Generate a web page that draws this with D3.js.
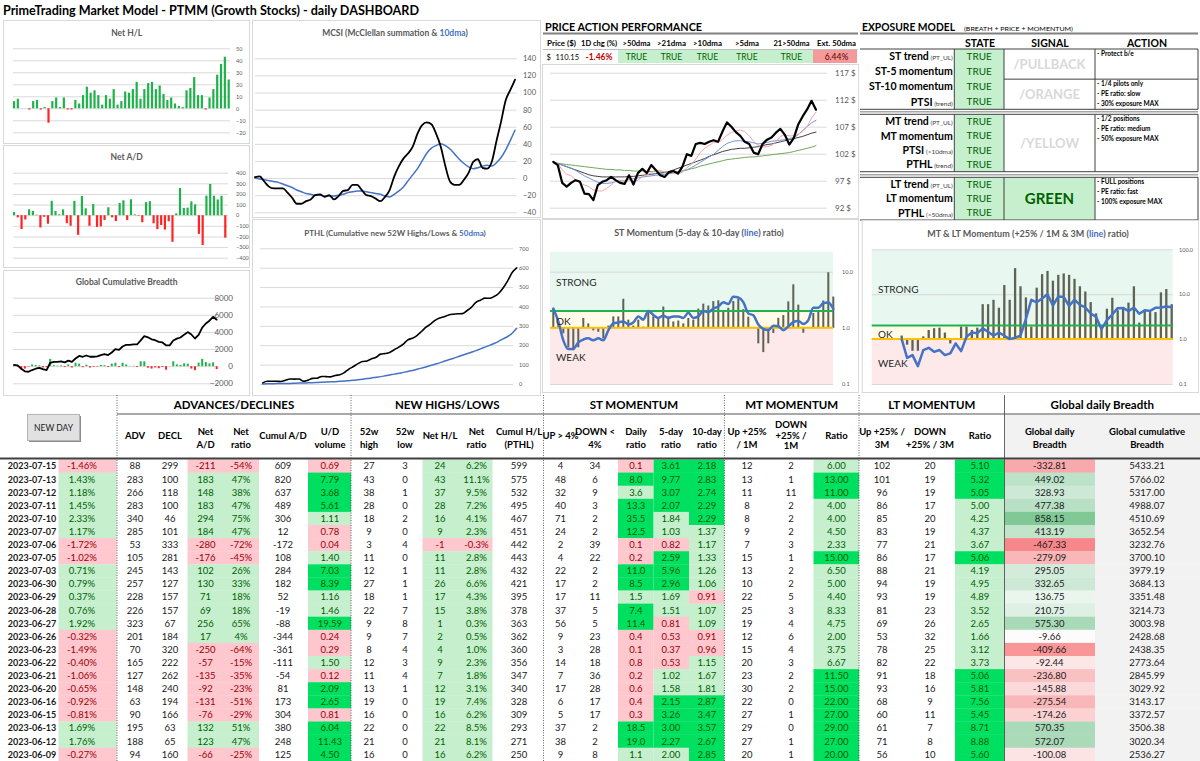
<!DOCTYPE html>
<html>
<head>
<meta charset="utf-8">
<title>PTMM daily dashboard</title>
<script src="https://cdn.jsdelivr.net/npm/d3@7/dist/d3.min.js"></script>
<style>
  body { margin: 0; background: #fff; }
  svg { display: block; font-family: Lato, "Open Sans", sans-serif; }
</style>
</head>
<body>
<svg id="dash" width="1200" height="761"></svg>
<script>
// ---- table rows, newest first (as in the sheet) ----
const dates = ["2023-07-15","2023-07-13","2023-07-12","2023-07-11","2023-07-10","2023-07-07","2023-07-06","2023-07-05","2023-07-03","2023-06-30","2023-06-29","2023-06-28","2023-06-27","2023-06-26","2023-06-23","2023-06-22","2023-06-21","2023-06-20","2023-06-16","2023-06-15","2023-06-13","2023-06-12","2023-06-09"];
const chg1d = [-1.46,1.43,1.18,1.45,2.33,1.17,-1.72,-1.02,0.71,0.79,0.37,0.76,1.92,-0.32,-1.49,-0.40,-1.06,-0.65,-0.92,-0.81,1.69,1.76,-0.27];
const adv = [88,283,266,283,340,285,53,105,245,257,228,226,323,201,70,165,127,148,63,90,195,188,94];
const decl = [299,100,118,100,46,101,333,281,143,127,157,157,67,184,320,222,262,240,194,166,63,65,160];
const netAD = [-211,183,148,183,294,184,-280,-176,102,130,71,69,256,17,-250,-57,-135,-92,-131,-76,132,123,-66];
const netADPct = [-54,47,38,47,75,47,-72,-45,26,33,18,18,65,4,-64,-15,-35,-23,-51,-29,51,47,-25];
const cumAD = [609,820,637,489,306,12,-172,108,284,182,52,-19,-88,-344,-361,-111,-54,81,173,304,380,248,125];
const udVolume = [0.69,7.79,3.68,5.61,1.11,0.78,0.04,1.40,7.03,8.39,1.16,1.46,19.59,0.24,0.29,1.50,0.12,2.09,2.65,0.81,6.04,11.43,4.50];
const high52 = [27,43,38,28,18,9,3,11,12,27,18,22,9,9,8,12,11,13,19,16,22,21,16];
const low52 = [3,0,1,0,2,0,4,0,1,1,1,7,8,7,4,3,4,1,0,0,0,0,0];
const netHL = [24,43,37,28,16,9,-1,11,11,26,17,15,1,2,4,9,7,12,19,16,22,21,16];
const netHLPct = [6.2,11.1,9.5,7.2,4.1,2.3,-0.3,2.8,2.8,6.6,4.3,3.8,0.3,0.5,1.0,2.3,1.8,3.1,7.4,6.2,8.5,8.1,6.2];
const cumHL = [599,575,532,495,467,451,442,443,432,421,395,378,363,362,360,356,347,340,328,309,293,271,250];
const up4 = [4,48,32,40,71,24,2,4,22,17,17,37,56,9,3,14,7,17,6,5,37,38,9];
const down4 = [34,6,9,3,2,2,39,22,2,2,11,5,5,23,28,18,36,28,17,17,2,2,8];
const dailyRatio = [0.1,8.0,3.6,13.3,35.5,12.5,0.1,0.2,11.0,8.5,1.5,7.4,11.4,0.4,0.1,0.8,0.2,0.6,0.4,0.3,18.5,19.0,1.1];
const ratio5d = [3.61,9.77,3.07,2.07,1.84,1.03,0.82,2.59,5.96,2.96,1.69,1.51,0.81,0.53,0.37,0.53,1.02,1.58,2.15,3.26,3.00,2.27,2.00];
const ratio10d = [2.18,2.83,2.74,2.29,2.29,1.37,1.17,1.33,1.26,1.06,0.91,1.07,1.09,0.91,0.96,1.15,1.67,1.81,2.87,3.47,3.57,2.67,2.85];
const mtUp = [12,13,11,8,8,9,7,15,13,10,22,25,19,12,15,20,23,30,22,27,29,27,20];
const mtDown = [2,1,11,2,2,2,3,1,2,2,5,3,4,6,4,3,2,2,0,1,0,1,1];
const mtRatio = [6.00,13.00,11.00,4.00,4.00,4.50,2.33,15.00,6.50,5.00,4.40,8.33,4.75,2.00,3.75,6.67,11.50,15.00,22.00,27.00,29.00,27.00,20.00];
const ltUp = [102,101,96,86,85,83,77,86,88,94,93,81,69,53,78,82,91,93,68,60,61,71,56];
const ltDown = [20,19,19,17,20,19,21,17,21,19,19,23,26,32,25,22,18,16,9,11,7,8,10];
const ltRatio = [5.10,5.32,5.05,5.00,4.25,4.37,3.67,5.06,4.19,4.95,4.89,3.52,2.65,1.66,3.12,3.73,5.06,5.81,7.56,5.45,8.71,8.88,5.60];
const gDaily = [-332.81,449.02,328.93,477.38,858.15,413.19,-467.33,-279.09,295.05,332.65,136.75,210.75,575.30,-9.66,-409.66,-92.44,-236.80,-145.88,-275.54,-174.26,570.35,572.07,-100.08];
const gCum = [5433.21,5766.02,5317.00,4988.07,4510.69,3652.54,3232.76,3700.10,3979.19,3684.13,3351.48,3214.73,3003.98,2428.68,2438.35,2773.64,2845.99,3029.92,3143.17,3372.57,3506.38,3020.34,2536.27];

// ---- chart history before 2023-06-09, oldest first ----
const netHLEarly = [6,8,0,0,-1,6,7,-1,1,-12,6,9,1,9,-1,-1,7,4,11,18,13,15,11,3,11,8,16,3,6,14,13,16,22,8];
const netADEarly = [30,-20,-130,-40,55,40,5,-115,-15,-80,135,40,8,55,-75,-100,135,-185,180,65,-100,105,-110,-105,-45,75,-20,-55,115,140,-45,150,8,-5];
const gDailyEarly = [120,-60,-350,-280,-60,200,150,100,-150,-120,850,120,60,90,-100,200,-150,400,300,-120,180,-150,-80,-50,150,120,-100,300,400,-100,400,200,30,50];
const gCumEarly = [150,100,-300,-600,-650,-450,-300,-200,-350,-450,400,500,500,550,450,650,500,900,1200,1100,1250,1100,1100,1150,1300,1400,1300,1600,2000,1900,2300,2500,2500,2550];
const cumHLEarly = [6,14,14,14,13,19,26,25,26,14,20,29,30,39,38,37,44,48,59,77,90,105,116,119,130,138,154,157,163,177,190,206,228,236];
const st5Early = [2.2,1.2,0.8,0.45,0.4,0.45,1.5,1.2,0.9,0.85,0.65,1.1,1.6,1.6,3.3,1.4,1.1,1.4,1.05,1.9,1.6,1.5,2.4,1.6,1.3,1.35,1.2,1.5,1.4,2.2,2.7,2.5,3.0,3.1];
const st10Early = [2.2,1.3,0.6,0.42,0.42,0.55,0.62,0.65,0.6,0.65,0.6,0.9,1.2,1.25,1.3,1.15,1.25,1.6,1.4,2.0,1.7,1.5,1.65,1.5,1.6,1.6,1.5,1.85,1.5,1.6,2.0,1.9,2.2,2.4];
const mtEarly = [null,null,null,null,null,null,1.2,0.75,0.55,0.55,1.15,1.6,1.75,1.8,1.4,0.8,1.0,1.9,1.9,1.6,1.8,6.0,6.0,7.5,5.0,16,7.5,38,15,8.5,1.9,14,28,33];
const ltEarly = [null,null,null,null,null,null,1.0,0.38,0.44,0.25,0.57,0.64,0.52,0.57,0.44,0.48,0.8,0.54,1.13,1.4,1.35,1.73,1.45,1.19,1.4,1.19,1.0,1.07,1.2,2.8,7.5,6.6,8.0,10.0];

// full-length series, oldest first
const mcsi = [1,2,-4,-10,-12,-12,-12,-17,-23,-30,-30,-27,-25,-20,-19,-22,-20,-25,-21,-15,-14,-8,-8,-14,-20,-21,-24,-27,-22,-14,2,14,23,29,37,52,62,65,63,52,37,14,-4,-8,-8,-2,6,19,22,12,11,19,43,66,91,103,115];
const mcsi10 = [0,-1,-2,-3,-4,-5,-7,-9,-11,-14,-16,-18,-19,-20,-20,-21,-21,-21,-20,-19,-17,-16,-15,-15,-16,-17,-18,-19,-21,-22,-19,-15,-10,-3,4,11,20,29,35,38,40,38,34,28,22,17,13,11,12,14,15,14,18,24,33,44,56];
const pthl50 = [0,1,1,2,2,3,3,4,5,5,6,7,8,9,10,11,12,14,15,17,19,22,25,28,31,35,38,42,46,51,55,60,65,70,76,82,88,95,102,109,117,125,132,140,148,156,164,172,181,190,199,209,220,233,245,262,287];
const price = [100.5,99.9,96.6,95.9,96.6,97.1,96.8,94.6,94.5,93.4,96.2,96.8,97.1,97.7,97.1,96.6,96.4,98.0,96.3,98.4,99.2,98.4,99.9,99.0,98.0,97.7,98.6,98.8,98.3,99.6,101.9,101.6,103.8,104.0,103.8,104.2,104.5,104.2,106.1,107.8,107.0,106.0,105.3,104.2,103.8,102.2,101.9,103.8,104.6,105.0,105.9,106.6,105.5,103.7,104.9,107.4,108.9,110.2,111.8,110.15];
const ma5 = [100.5,100.2,99.0,98.2,97.9,97.2,96.6,96.2,95.9,95.3,95.1,95.1,95.6,96.2,97.0,97.1,97.0,97.2,96.9,97.1,97.7,98.1,98.4,99.0,98.9,98.6,98.6,98.4,98.3,98.6,99.4,100.0,101.0,102.2,103.0,103.5,104.1,104.1,104.6,105.4,105.9,106.2,106.4,106.1,105.3,104.3,103.5,103.2,103.3,103.5,104.2,105.2,105.5,105.3,105.3,105.6,106.1,107.0,108.6,109.7];
const ma10 = [100.5,100.2,99.9,99.6,99.3,98.9,98.4,97.9,97.5,97.1,96.7,96.5,96.5,96.6,96.8,96.9,97.0,97.2,97.4,97.5,97.7,97.8,97.9,98.0,98.1,98.2,98.3,98.4,98.6,98.8,99.0,99.4,99.9,100.4,100.9,101.4,101.9,102.6,103.3,103.9,104.2,104.4,104.4,104.3,104.2,104.0,103.8,103.9,104.1,104.3,104.4,104.5,104.6,104.8,105.0,105.5,106.3,107.0,107.7,108.2];
const ma21 = [100.5,100.2,99.9,99.6,99.3,99.0,98.7,98.4,98.1,97.9,97.8,97.7,97.7,97.7,97.7,97.7,97.7,97.8,97.8,97.9,98.0,98.1,98.2,98.3,98.4,98.5,98.7,99.0,99.3,99.6,99.9,100.2,100.5,100.8,101.1,101.5,101.8,102.1,102.4,102.6,102.8,102.9,103.0,103.0,103.1,103.2,103.3,103.5,103.7,103.8,104.0,104.2,104.4,104.6,104.8,105.0,105.2,105.5,105.8,106.0];
const ma50 = [100.3,100.2,100.1,100.0,99.9,99.8,99.7,99.6,99.5,99.4,99.3,99.2,99.1,99.1,99.0,99.0,98.9,98.9,98.8,98.8,98.8,98.7,98.7,98.7,98.6,98.6,98.6,98.6,98.7,98.8,99.0,99.2,99.4,99.7,99.9,100.1,100.3,100.5,100.7,100.9,101.0,101.1,101.2,101.3,101.4,101.4,101.5,101.6,101.7,101.8,101.9,102.0,102.1,102.2,102.4,102.6,102.8,103.0,103.2,103.5];

// ---- price action / exposure model texts ----
const paHeaders = ["Price ($)","1D chg (%)",">50dma",">21dma",">10dma",">5dma","21>50dma","Ext. 50dma"];
const paFlags = ["TRUE","TRUE","TRUE","TRUE","TRUE"];
const paPrice = 110.15, paChg = -1.46, paExt = 6.44;
const expoLabels = [
  [["ST trend","(PT_UL)"],["ST-5 momentum",""],["ST-10 momentum",""],["PTSI","(trend)"]],
  [["MT trend","(PT_UL)"],["MT momentum",""],["PTSI","(>10dma)"],["PTHL","(trend)"]],
  [["LT trend","(PT_UL)"],["LT momentum",""],["PTHL","(>50dma)"]]
];
const expoSignals = [["/PULLBACK","/ORANGE"],["/YELLOW"],["GREEN"]];
const expoActions = [
  [["- Protect b/e"],["- 1/4 pilots only","- PE ratio: slow","- 30% exposure MAX"]],
  [["- 1/2 positions","- PE ratio: medium","- 50% exposure MAX"]],
  [["- FULL positions","- PE ratio: fast","- 100% exposure MAX"]]
];
const zoneStrong = 2, zoneOk = 1;

// chronological series for the charts
const chrono = a => a.slice().reverse();
const hlSeries = netHLEarly.concat(chrono(netHL));
const adSeries = netADEarly.concat(chrono(netAD));
const gDailySeries = gDailyEarly.concat(chrono(gDaily));
const gCumSeries = gCumEarly.concat(chrono(gCum));
const pthlSeries = cumHLEarly.concat(chrono(cumHL));
const st5Series = st5Early.concat(chrono(ratio5d));
const st10Series = st10Early.concat(chrono(ratio10d));
const mtSeries = mtEarly.concat(chrono(mtRatio));
const ltSeries = ltEarly.concat(chrono(ltRatio));

// ---- drawing ----
const svg = d3.select("#dash");
const FONT = "Lato, 'Open Sans', sans-serif";
const GRID = "#d9d9d9", AX = "#595959", BLUE = "#4472c4";
const UP = "#1fb24a", DN = "#ff2424", BARGRAY = "#5f6356";
const C_LG = "#c6efce", C_LR = "#ffc7ce", C_BG = "#00e060", T_G = "#006100", T_R = "#9c0006";

svg.append("rect").attr("width", 1200).attr("height", 761).attr("fill", "#fff");

function panel(x, y, w, h) {
  svg.append("rect").attr("x", x + 0.5).attr("y", y + 0.5).attr("width", w).attr("height", h)
    .attr("fill", "#fff").attr("stroke", "#d9d9d9");
}

function chartTitle(cx, y, parts, size) {
  const t = svg.append("text").attr("x", cx).attr("y", y).attr("text-anchor", "middle")
    .attr("font-size", size).attr("font-weight", "bold").attr("fill", AX);
  parts.forEach(p => t.append("tspan").attr("fill", p[1] || AX).text(p[0]));
}

function gridAxis(scale, vals, gx0, gx1, lx, fmt, size, anchor) {
  const g = svg.append("g").attr("transform", `translate(${gx1},0)`)
    .call(d3.axisRight(scale).tickValues(vals).tickFormat(fmt)
      .tickSize(-(gx1 - gx0)).tickPadding(lx - gx1));
  g.select(".domain").remove();
  g.selectAll(".tick line").attr("stroke", GRID);
  g.selectAll(".tick text").attr("font-family", FONT).attr("font-size", size)
    .attr("fill", AX).attr("text-anchor", anchor || "start");
}

function bars(vals, xr, y, base, w, color) {
  const x = d3.scalePoint().domain(d3.range(vals.length)).range(xr);
  svg.append("g").selectAll("rect")
    .data(vals.map((v, i) => ({ v, i })).filter(d => d.v != null))
    .join("rect")
    .attr("x", d => x(d.i) - w / 2).attr("width", w)
    .attr("y", d => Math.min(y(d.v), y(base)))
    .attr("height", d => Math.abs(y(d.v) - y(base)))
    .attr("fill", d => typeof color === "function" ? color(d.v) : color);
}

function line(vals, xr, y, color, width, curve) {
  const x = d3.scalePoint().domain(d3.range(vals.length)).range(xr);
  svg.append("path").datum(vals)
    .attr("d", d3.line().defined(v => v != null).x((v, i) => x(i)).y(v => y(v)).curve(curve || d3.curveLinear))
    .attr("fill", "none").attr("stroke", color).attr("stroke-width", width)
    .attr("stroke-linejoin", "round").attr("stroke-linecap", "round");
}

function hline(x0, x1, y, color, w, dash) {
  svg.append("line").attr("x1", x0).attr("x2", x1).attr("y1", y).attr("y2", y)
    .attr("stroke", color).attr("stroke-width", w).attr("stroke-dasharray", dash || null);
}
function vline(x, y0, y1, color, w, dash) {
  svg.append("line").attr("x1", x).attr("x2", x).attr("y1", y0).attr("y2", y1)
    .attr("stroke", color).attr("stroke-width", w).attr("stroke-dasharray", dash || null);
}
function txt(x, y, s, size, opts) {
  opts = opts || {};
  return svg.append("text").attr("x", x).attr("y", y).attr("font-size", size)
    .attr("font-weight", opts.bold ? "bold" : null).attr("fill", opts.fill || "#000")
    .attr("text-anchor", opts.anchor || "start").text(s);
}

// title
txt(3, 14.5, "PrimeTrading Market Model - PTMM (Growth Stocks) - daily DASHBOARD", 14, { bold: true })
  .attr("textLength", 416).attr("lengthAdjust", "spacingAndGlyphs");

// Net H/L
panel(3, 20, 246, 123);
chartTitle(126.7, 36, [["Net H/L"]], 8.5);
const yHL = d3.scaleLinear().domain([-20, 50]).range([132.3, 48.3]);
gridAxis(yHL, d3.range(-20, 51, 10), 13, 230, 236, d3.format("d"), 5.5);
bars(hlSeries, [14, 228.7], yHL, 0, 2.2, v => v >= 0 ? UP : DN);

// Net A/D
panel(3, 145, 246, 122);
chartTitle(126.7, 160, [["Net A/D"]], 8.5);
const yAD = d3.scaleLinear().domain([-400, 400]).range([257.7, 172.7]);
gridAxis(yAD, d3.range(-400, 401, 100), 13, 228, 236, d3.format("d"), 5.5);
bars(adSeries, [14, 225.3], yAD, 0, 2.2, v => v >= 0 ? UP : DN);

// Global cumulative breadth
panel(3, 270, 246, 125);
chartTitle(126.7, 285, [["Global Cumulative Breadth"]], 8.5);
const yGB = d3.scaleLinear().domain([-2000, 8000]).range([383.3, 297.7]);
gridAxis(yGB, d3.range(-2000, 8001, 2000), 13, 217, 233, d3.format("d"), 8, "end");
bars(gDailySeries, [14, 216.7], yGB, 0, 2, v => v >= 0 ? UP : DN);
line(gCumSeries, [14, 216.7], yGB, "#000", 1.8);

// MCSI
panel(252, 20, 288, 197);
chartTitle(395, 36, [["MCSI (McClellan summation & "], ["10dma", BLUE], [")"]], 8.5);
const yMC = d3.scaleLinear().domain([-40, 140]).range([212.3, 58.3]);
gridAxis(yMC, d3.range(-40, 141, 20), 255, 516.7, 523, d3.format("d"), 7.5);
line(mcsi10, [255, 515], yMC, BLUE, 1.5, d3.curveMonotoneX);
line(mcsi, [255, 515], yMC, "#000", 1.8, d3.curveMonotoneX);

// PTHL
panel(252, 219, 288, 176);
chartTitle(395, 235.5, [["PTHL (Cumulative new 52W Highs/Lows & "], ["50dma", BLUE], [")"]], 8);
const yPT = d3.scaleLinear().domain([0, 700]).range([384, 248.3]);
gridAxis(yPT, d3.range(0, 701, 100), 260, 513, 519, d3.format("d"), 5.5);
line(pthl50, [262.7, 516.7], yPT, BLUE, 1.5, d3.curveMonotoneX);
line(pthlSeries, [262.7, 516.7], yPT, "#000", 1.6, d3.curveMonotoneX);

// Price action performance
txt(545, 30.5, "PRICE ACTION PERFORMANCE", 11.5, { bold: true })
  .attr("textLength", 157).attr("lengthAdjust", "spacingAndGlyphs");
hline(543, 858, 33.5, "#808080", 2);
const paX = [561.5, 599, 636.5, 671.5, 707.5, 747, 791.5, 836.5];
const paW = [29, 36, 28, 29, 29, 24, 36, 39];
paHeaders.forEach((h, i) => txt(paX[i], 46, h, 8, { bold: true, anchor: "middle" })
  .attr("textLength", paW[i]).attr("lengthAdjust", "spacingAndGlyphs"));
hline(543, 858, 49.5, "#bfbfbf", 1);
svg.append("rect").attr("x", 618).attr("y", 50).attr("width", 195).attr("height", 13).attr("fill", C_LG);
svg.append("rect").attr("x", 813).attr("y", 50).attr("width", 44).attr("height", 13).attr("fill", "#f59a9a");
txt(546.5, 59.5, "$", 7.5, {});
txt(555.5, 59.5, paPrice.toFixed(2), 7.5, {});
txt(paX[1], 59.5, paChg.toFixed(2) + "%", 8.5, { bold: true, fill: "#c00000", anchor: "middle" });
paFlags.forEach((f, i) => txt(paX[i + 2], 59.5, f, 8.5, { fill: T_G, anchor: "middle" }));
txt(paX[7], 59.5, paExt.toFixed(2) + "%", 8.5, { fill: "#5a0000", anchor: "middle" });

panel(542, 64, 316, 154);
const yPx = d3.scaleLinear().domain([92, 117]).range([207.7, 72.7]);
gridAxis(yPx, d3.range(92, 118, 5), 550, 826.7, 835, d => d + " $", 8);
const pxRange = [553.3, 816];
line(ma50, pxRange, yPx, "#70a85a", 1);
line(ma21, pxRange, yPx, "#404040", 1);
line(ma10, pxRange, yPx, "#7094dc", 1);
line(ma5, pxRange, yPx, "#f4a6a6", 1);
line(price, pxRange, yPx, "#000", 2.2);

// Exposure model
txt(862, 30.5, "EXPOSURE MODEL", 11, { bold: true }).attr("textLength", 93).attr("lengthAdjust", "spacingAndGlyphs");
txt(964, 30.5, "(BREATH + PRICE + MOMENTUM)", 6, {}).attr("textLength", 109).attr("lengthAdjust", "spacingAndGlyphs");
hline(860, 1198, 33.5, "#808080", 2);
txt(980, 46.5, "STATE", 10.5, { bold: true, anchor: "middle" });
txt(1050, 46.5, "SIGNAL", 10.5, { bold: true, anchor: "middle" });
txt(1147, 46.5, "ACTION", 10.5, { bold: true, anchor: "middle" });
const expoBox = [[49, 109.3], [114.3, 171.7], [177.3, 220]];
const xLab = 954.3, xSig = 1004, xAct = 1095, xEnd = 1198;
expoBox.forEach((b, gi) => {
  const [top, bottom] = b;
  svg.append("rect").attr("x", xLab).attr("y", top).attr("width", xSig - xLab).attr("height", bottom - top).attr("fill", C_LG);
  if (expoSignals[gi][0] === "GREEN")
    svg.append("rect").attr("x", xSig).attr("y", top).attr("width", xAct - xSig).attr("height", bottom - top).attr("fill", C_LG);
  if (gi > 0) hline(860, xEnd, top - 2.5, "#a6a6a6", 1.5);
  hline(860, xEnd, top, "#404040", 1);
  hline(860, xEnd, bottom, "#404040", 1);
  [xLab, xSig, xAct, xEnd].forEach(x => vline(x, top, bottom, "#404040", 1));
  const labs = expoLabels[gi];
  const pitch = (bottom - top) / labs.length;
  labs.forEach((l, k) => {
    const cy = top + (k + 0.5) * pitch;
    const t = svg.append("text").attr("x", xLab - 1.5).attr("y", cy + 3.8).attr("text-anchor", "end")
      .attr("font-size", 10.5).attr("font-weight", "bold");
    t.append("tspan").text(l[0]);
    if (l[1]) t.append("tspan").attr("font-size", 6.5).attr("font-weight", "normal").attr("fill", "#404040").text(" " + l[1]);
    txt((xLab + xSig) / 2, cy + 3.6, "TRUE", 10, { fill: T_G, anchor: "middle" });
  });
  const sigs = expoSignals[gi];
  const secH = (bottom - top) / sigs.length;
  sigs.forEach((s, k) => {
    const sTop = top + k * secH;
    if (k > 0) hline(xSig, xEnd, sTop, "#404040", 1);
    const green = s === "GREEN";
    txt((xSig + xAct) / 2, sTop + secH / 2 + (green ? 5.5 : 4.5), s, green ? 15 : 13,
      { bold: true, anchor: "middle", fill: green ? T_G : "#d9d9d9" });
    expoActions[gi][k].forEach((a, j) => txt(xAct + 2, sTop + 7 + j * 9.7, a, 6.5, { bold: true }));
  });
});

// momentum zone background
function zones(y, x0, x1, top) {
  const bands = [[top, zoneStrong, "#e8f8f0"], [zoneStrong, zoneOk, "#fffbe8"], [zoneOk, 0.1, "#fde9ea"]];
  svg.append("g").selectAll("rect").data(bands).join("rect")
    .attr("x", x0).attr("width", x1 - x0)
    .attr("y", d => y(d[0])).attr("height", d => y(d[1]) - y(d[0])).attr("fill", d => d[2]);
}
function zoneLabels(y, x, pos) {
  [["STRONG", pos[0]], ["OK", pos[1]], ["WEAK", pos[2]]].forEach(p => txt(x, p[1], p[0], 10, { fill: "#262626" }));
}

// ST momentum
panel(542, 219, 316, 173);
chartTitle(699, 236, [["ST Momentum (5-day & 10-day ("], ["line", BLUE], [") ratio)"]], 9);
const yST = d3.scaleLog().domain([0.1, 22.7]).range([384, 251.7]);
zones(yST, 550, 833, 22.7);
gridAxis(yST, [0.1, 1, 10], 550, 833, 842, d3.format(".1f"), 5.5);
bars(st5Series, [553.3, 833.3], yST, 1, 2, BARGRAY);
hline(550, 833, yST(zoneStrong), "#22b14c", 2);
hline(550, 833, yST(zoneOk), "#ffc000", 2);
line(st10Series, [553.3, 833.3], yST, BLUE, 2.5, d3.curveMonotoneX);
zoneLabels(yST, 556, [285.5, 324.5, 360.5]);

// MT & LT momentum
panel(861.7, 220, 336.3, 172);
chartTitle(1028, 236.5, [["MT & LT Momentum (+25% / 1M & 3M ("], ["line", BLUE], [") ratio)"]], 9);
const yMT = d3.scaleLog().domain([0.1, 100]).range([384, 249.3]);
zones(yMT, 871.7, 1172.7, 100);
gridAxis(yMT, [0.1, 1, 10, 100], 871.7, 1172.7, 1179, d3.format(".1f"), 5.5);
bars(mtSeries, [869.3, 1171.7], yMT, 1, 2.3, BARGRAY);
hline(871.7, 1172.7, yMT(zoneStrong), "#22b14c", 2);
hline(871.7, 1172.7, yMT(zoneOk), "#ffc000", 2);
line(ltSeries, [869.3, 1171.7], yMT, BLUE, 2.5);
zoneLabels(yMT, 878, [292.5, 337.5, 366.5]);

// ---- daily table ----
const rowBand = d3.scaleBand().domain(d3.range(dates.length)).range([459.5, 760.8]);
const signKind = v => v < 0 ? "r" : "l";
const tier = (lo, hi) => v => v < lo ? "r" : (v <= hi ? "l" : "b");
const kindFill = { r: C_LR, l: C_LG, b: C_BG };
const kindText = { r: T_R, l: T_G, b: T_G };
const breadthFill = d3.scaleLinear().domain([-467.33, 0, 858.15]).range(["#f7878a", "#fdfdfd", "#80c996"]);
const f1 = v => v.toFixed(1), f2 = v => v.toFixed(2);

const cols = [
  { vals: dates, x: 32, bold: true, size: 9 },
  { vals: chg1d, x: 82, fmt: v => v.toFixed(2) + "%", kind: signKind, x0: 58.5, x1: 116.7 },
  { vals: adv, x: 135 },
  { vals: decl, x: 170 },
  { vals: netAD, x: 205.5, kind: signKind, x0: 187.5, x1: 224 },
  { vals: netADPct, x: 241, fmt: v => v + "%", kind: signKind, x0: 224, x1: 259 },
  { vals: cumAD, x: 283 },
  { vals: udVolume, x: 330, fmt: f2, kind: tier(1, 2), x0: 308, x1: 351 },
  { vals: high52, x: 369 },
  { vals: low52, x: 405 },
  { vals: netHL, x: 440, kind: signKind, x0: 422.5, x1: 458 },
  { vals: netHLPct, x: 476.5, fmt: v => v.toFixed(1) + "%", kind: signKind, x0: 458, x1: 492.5 },
  { vals: cumHL, x: 519 },
  { vals: up4, x: 560.6 },
  { vals: down4, x: 595 },
  { vals: dailyRatio, x: 636, fmt: f1, kind: tier(1, 5), x0: 618, x1: 653.6 },
  { vals: ratio5d, x: 671, fmt: f2, kind: tier(1, 2), x0: 653.6, x1: 689 },
  { vals: ratio10d, x: 707, fmt: f2, kind: tier(1, 2), x0: 689, x1: 724.4 },
  { vals: mtUp, x: 747 },
  { vals: mtDown, x: 791 },
  { vals: mtRatio, x: 836.5, fmt: f2, kind: tier(1, 10), x0: 813.5, x1: 859 },
  { vals: ltUp, x: 882 },
  { vals: ltDown, x: 930 },
  { vals: ltRatio, x: 980, fmt: f2, kind: tier(1, 5), x0: 955, x1: 1004.5 },
  { vals: gDaily, x: 1049.7, fmt: f2, fill: v => breadthFill(v), x0: 1004.5, x1: 1095 },
  { vals: gCum, x: 1147, fmt: f2, fill: () => "#f2f2f2", x0: 1095, x1: 1200 }
];

cols.forEach(c => {
  const g = svg.append("g");
  if (c.kind || c.fill) {
    g.selectAll("rect").data(c.vals).join("rect")
      .attr("x", c.x0).attr("width", c.x1 - c.x0)
      .attr("y", (d, i) => rowBand(i)).attr("height", rowBand.bandwidth() + 0.3)
      .attr("fill", d => c.kind ? kindFill[c.kind(d)] : c.fill(d));
  }
  g.selectAll("text").data(c.vals).join("text")
    .attr("x", c.x).attr("y", (d, i) => rowBand(i) + rowBand.bandwidth() / 2 + 3.4)
    .attr("text-anchor", "middle").attr("font-size", c.size || 9.5)
    .attr("font-weight", c.bold ? "bold" : null)
    .attr("fill", d => c.kind ? kindText[c.kind(d)] : "#1a1a1a")
    .text(d => c.fmt ? c.fmt(d) : d);
});

// header
svg.append("rect").attr("x", 1004.5).attr("y", 414).attr("width", 195.5).attr("height", 44).attr("fill", "#f2f2f2");
const groups = [["ADVANCES/DECLINES", 117, 351], ["NEW HIGHS/LOWS", 351, 543.5], ["ST MOMENTUM", 543.5, 724.4],
  ["MT MOMENTUM", 724.4, 859], ["LT MOMENTUM", 859, 1004.5], ["Global daily Breadth", 1004.5, 1200]];
groups.forEach(g => txt((g[1] + g[2]) / 2, 409, g[0], 11.5, { bold: true, anchor: "middle" }));
hline(117, 1200, 414, "#8c8c8c", 1.5);
const heads = [
  ["ADV"], ["DECL"], ["Net", "A/D"], ["Net", "ratio"], ["Cumul A/D"], ["U/D", "volume"],
  ["52w", "high"], ["52w", "low"], ["Net H/L"], ["Net", "ratio"], ["Cumul H/L", "(PTHL)"],
  ["UP > 4%"], ["DOWN <", "4%"], ["Daily", "ratio"], ["5-day", "ratio"], ["10-day", "ratio"],
  ["Up +25%", "/ 1M"], ["DOWN", "+25% /", "1M"], ["Ratio"], ["Up +25% /", "3M"], ["DOWN", "+25% / 3M"], ["Ratio"],
  ["Global daily", "Breadth"], ["Global cumulative", "Breadth"]
];
const baseY = { 1: [438.5], 2: [434.5, 447.5], 3: [427.5, 438.5, 448.5] };
heads.forEach((h, i) => {
  const x = cols[i + 2].x;
  h.forEach((s, k) => txt(x, baseY[h.length][k], s, 9.5, { bold: true, anchor: "middle" }));
});
hline(0, 1200, 458.5, "#404040", 2);
[117, 351, 543.5, 724.4, 859].forEach(x => vline(x, 395, 761, "#404040", 0.8, "1,1.5"));
vline(1004.5, 395, 761, "#404040", 0.8);

// NEW DAY button
svg.append("rect").attr("x", 29).attr("y", 416).attr("width", 52).attr("height", 26).attr("fill", "#8c8c8c");
svg.append("rect").attr("x", 27.5).attr("y", 414.5).attr("width", 52).attr("height", 26)
  .attr("fill", "#e1e1e1").attr("stroke", "#b4b4b4");
txt(53.5, 430.5, "NEW DAY", 8.5, { anchor: "middle", fill: "#222" });
</script>
</body>
</html>
